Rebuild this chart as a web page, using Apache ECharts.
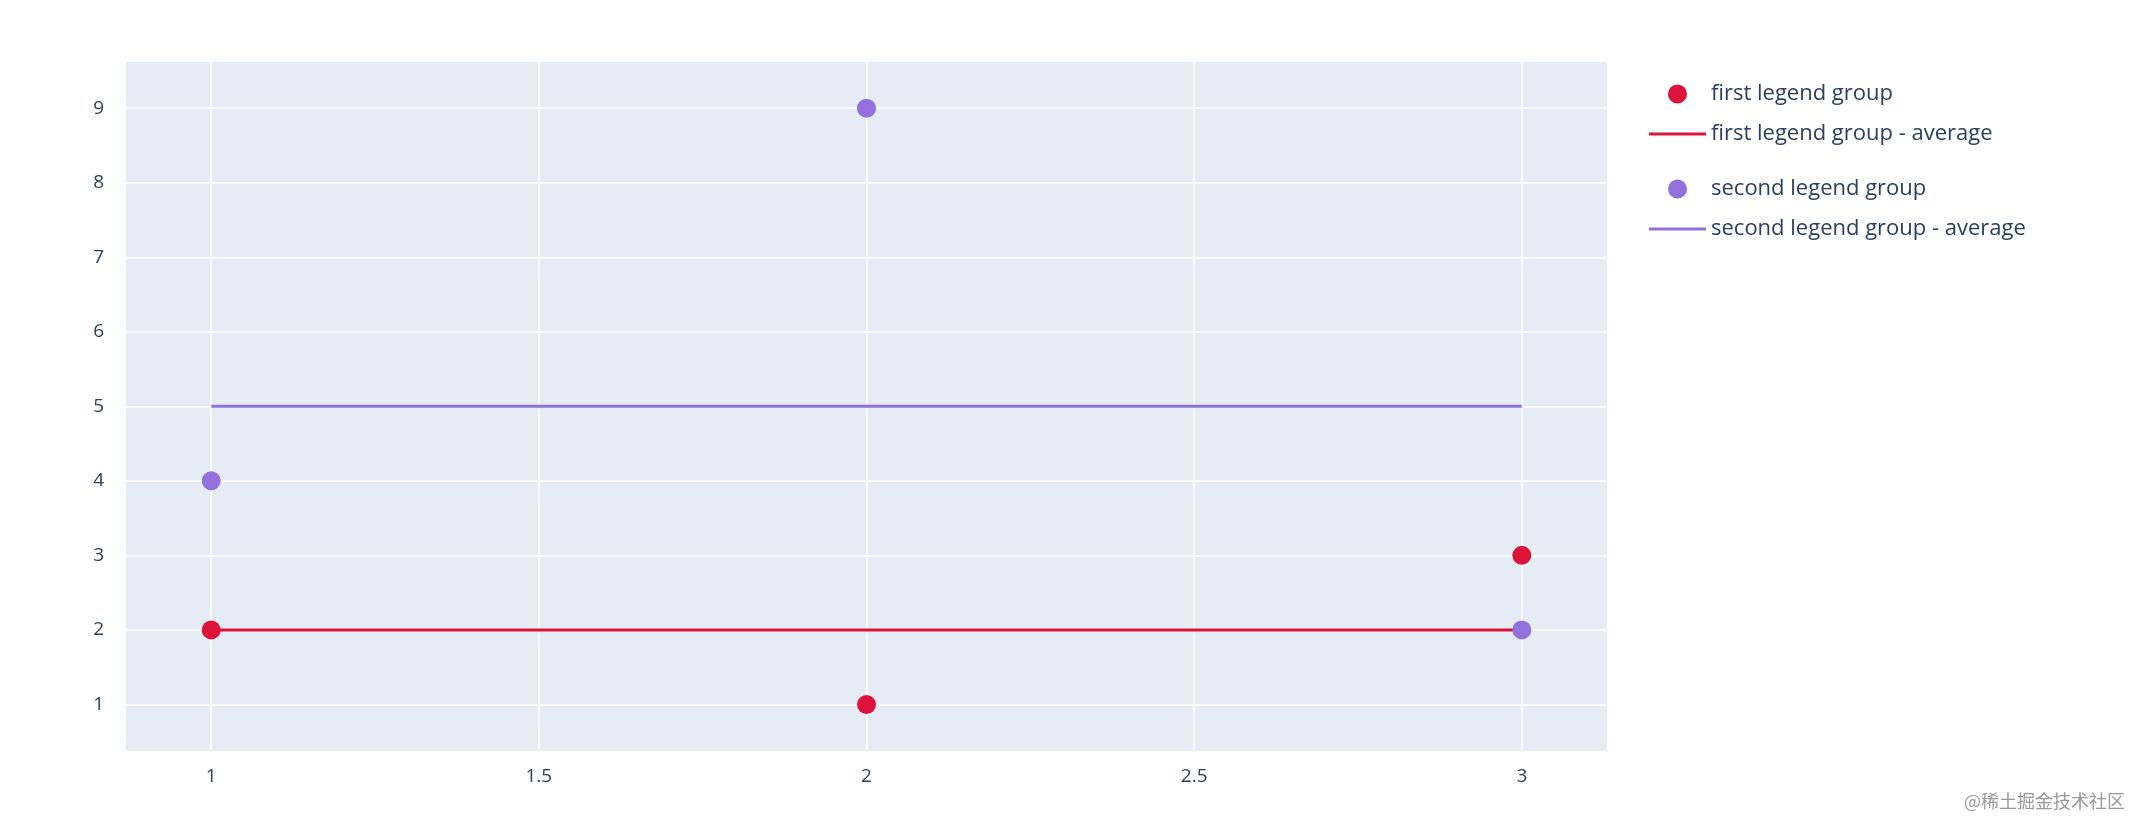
<!DOCTYPE html>
<html><head><meta charset="utf-8">
<script src="https://cdn.jsdelivr.net/npm/echarts@6/dist/echarts.min.js"></script>
<style>html,body{margin:0;padding:0;background:#fff}#c{width:2150px;height:838px}</style>
</head><body><div id="c"></div>
<script>
const firstX = [1, 2, 3];
const firstY = [2, 1, 3];
const firstAvg = [2, 2, 2];
const secondX = [1, 2, 3];
const secondY = [4, 9, 2];
const secondAvg = [5, 5, 5];
const red = '#DC143C', purple = '#9370DB', txt = '#2a3f5f';
const pts = (xs, ys) => xs.map((x, i) => [x, ys[i]]);
const lineIcon = 'path://M0,0L57,0L57,3L0,3Z';
const chart = echarts.init(document.getElementById('c'));
const isNice = (v, step) => Math.abs(v / step - Math.round(v / step)) < 1e-6;
chart.setOption({
  animation: false,
  textStyle: {fontFamily: 'Open Sans'},
  grid: {left: 126, right: 543, top: 62, bottom: 87, show: true, backgroundColor: '#E5ECF6', borderWidth: 0},
  xAxis: {type: 'value', min: 0.87, max: 3.13, splitNumber: 5,
    axisLine: {show: false}, axisTick: {show: false},
    splitLine: {lineStyle: {color: '#fff', width: 1.5}, showMinLine: false, showMaxLine: false},
    axisLabel: {color: txt, fontSize: 19, margin: 16, showMinLabel: false, showMaxLabel: false,
      formatter: v => isNice(v, 0.5) ? String(+v.toFixed(2)) : ''}},
  yAxis: {type: 'value', min: 0.375, max: 9.62, splitNumber: 9,
    axisLine: {show: false}, axisTick: {show: false},
    splitLine: {lineStyle: {color: '#fff', width: 1.5}, showMinLine: false, showMaxLine: false},
    axisLabel: {color: txt, fontSize: 19, margin: 22, showMinLabel: false, showMaxLabel: false,
      formatter: v => isNice(v, 1) ? String(Math.round(v)) : ''}},
  legend: [
    {orient: 'vertical', left: 1644, top: 78, itemWidth: 57, itemHeight: 19, itemGap: 18,
     textStyle: {color: txt, fontSize: 22},
     data: [{name: 'first legend group', icon: 'circle'}, {name: 'first legend group - average', icon: lineIcon}]},
    {orient: 'vertical', left: 1644, top: 173, itemWidth: 57, itemHeight: 19, itemGap: 18,
     textStyle: {color: txt, fontSize: 22},
     data: [{name: 'second legend group', icon: 'circle'}, {name: 'second legend group - average', icon: lineIcon}]}
  ],
  graphic: [{type: 'text', right: 25, top: 792, style: {text: '@稀土掘金技术社区', fill: '#999', fontSize: 18, fontFamily: 'Noto Sans CJK SC'}}],
  series: [
    {name: 'first legend group - average', type: 'line', data: pts(firstX, firstAvg), showSymbol: false, symbol: 'none',
     lineStyle: {color: red, width: 3}, itemStyle: {color: red}, z: 2},
    {name: 'second legend group - average', type: 'line', data: pts(secondX, secondAvg), showSymbol: false, symbol: 'none',
     lineStyle: {color: purple, width: 3}, itemStyle: {color: purple}, z: 2},
    {name: 'first legend group', type: 'scatter', data: pts(firstX, firstY), symbolSize: 19, itemStyle: {color: red, opacity: 1}, z: 3},
    {name: 'second legend group', type: 'scatter', data: pts(secondX, secondY), symbolSize: 19, itemStyle: {color: purple, opacity: 1}, z: 3}
  ]
});
</script></body></html>
